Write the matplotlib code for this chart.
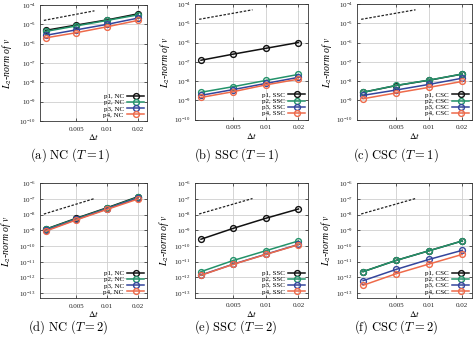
import matplotlib
matplotlib.use("Agg")
import matplotlib.pyplot as plt
from matplotlib.ticker import FixedLocator, FixedFormatter, LogLocator, LogFormatterSciNotation, NullLocator

# Time steps and the tick labels on the Δt axis
dt = [0.0025, 0.005, 0.01, 0.02]
dt_ticks = [0.005, 0.01, 0.02]
dt_tick_labels = ["0.005", "0.01", "0.02"]

# Reference slope lines (first order at T=1, second order at T=2)
ref_dt = [0.0024, 0.0075]
ref_t1 = [1.6e-5, 5.0e-5]
ref_t2 = [1.1e-8, 1.07e-7]

# L2-norm errors of v, one list per parameter set p1..p4
nc_t1_p1 = [4.9e-6, 9.2e-6, 1.7e-5, 3.5e-5]
nc_t1_p2 = [4.3e-6, 8.3e-6, 1.6e-5, 3.1e-5]
nc_t1_p3 = [2.7e-6, 5.2e-6, 1.0e-5, 2.1e-5]
nc_t1_p4 = [2.0e-6, 3.7e-6, 7.5e-6, 1.6e-5]

ssc_t1_p1 = [1.2e-7, 2.5e-7, 5.0e-7, 1.0e-6]
ssc_t1_p2 = [2.6e-9, 5.1e-9, 1.07e-8, 2.2e-8]
ssc_t1_p3 = [1.8e-9, 3.6e-9, 7.5e-9, 1.55e-8]
ssc_t1_p4 = [1.4e-9, 2.8e-9, 6.3e-9, 1.25e-8]

csc_t1_p1 = [2.6e-9, 5.8e-9, 1.1e-8, 2.3e-8]
csc_t1_p2 = [2.6e-9, 5.9e-9, 1.12e-8, 2.3e-8]
csc_t1_p3 = [1.8e-9, 3.4e-9, 6.7e-9, 1.4e-8]
csc_t1_p4 = [1.2e-9, 2.4e-9, 4.7e-9, 9.5e-9]

nc_t2_p1 = [1.2e-9, 6.0e-9, 2.8e-8, 1.4e-7]
nc_t2_p2 = [1.15e-9, 5.6e-9, 2.6e-8, 1.3e-7]
nc_t2_p3 = [1.0e-9, 5.0e-9, 2.4e-8, 1.15e-7]
nc_t2_p4 = [9.0e-10, 4.7e-9, 2.2e-8, 1.0e-7]

ssc_t2_p1 = [2.7e-10, 1.35e-9, 5.9e-9, 2.3e-8]
ssc_t2_p2 = [2.3e-12, 1.2e-11, 5.0e-11, 2.1e-10]
ssc_t2_p3 = [1.4e-12, 7.0e-12, 3.0e-11, 1.25e-10]
ssc_t2_p4 = [1.35e-12, 6.8e-12, 2.9e-11, 1.2e-10]

csc_t2_p1 = [2.3e-12, 1.2e-11, 5.0e-11, 2.1e-10]
csc_t2_p2 = [2.3e-12, 1.2e-11, 5.0e-11, 2.1e-10]
csc_t2_p3 = [6.1e-13, 3.2e-12, 1.4e-11, 5.3e-11]
csc_t2_p4 = [3.1e-13, 1.7e-12, 7.1e-12, 2.9e-11]

series_names = ["p1", "p2", "p3", "p4"]
colors = ["#111111", "#23936a", "#34459c", "#ee6a4a"]

plt.rcParams["font.family"] = ["Liberation Serif", "DejaVu Serif"]
plt.rcParams["mathtext.fontset"] = "stix"

W, H = 474, 340
fig = plt.figure(figsize=(W / 100, H / 100), dpi=100)


def box(l, t, r, b):
    return [l / W, 1 - b / H, (r - l) / W, (b - t) / H]


panels = [
    dict(rect=box(40, 5, 147, 121), scheme="NC", T=1, tag="a", ylim=(1e-10, 1e-4), ref=ref_t1,
         cap=(70, 155), ylab=14,
         data=[nc_t1_p1, nc_t1_p2, nc_t1_p3, nc_t1_p4]),
    dict(rect=box(195, 4, 308, 119.5), scheme="SSC", T=1, tag="b", ylim=(1e-10, 1e-4), ref=ref_t1,
         cap=(236, 155), ylab=172,
         data=[ssc_t1_p1, ssc_t1_p2, ssc_t1_p3, ssc_t1_p4]),
    dict(rect=box(357, 4, 472, 119.5), scheme="CSC", T=1, tag="c", ylim=(1e-10, 1e-4), ref=ref_t1,
         cap=(396, 155), ylab=334,
         data=[csc_t1_p1, csc_t1_p2, csc_t1_p3, csc_t1_p4]),
    dict(rect=box(40, 183.3, 147, 298), scheme="NC", T=2, tag="d", ylim=(5e-14, 1e-6), ref=ref_t2,
         cap=(68, 327), ylab=13,
         data=[nc_t2_p1, nc_t2_p2, nc_t2_p3, nc_t2_p4]),
    dict(rect=box(195, 183.3, 308, 297.7), scheme="SSC", T=2, tag="e", ylim=(5e-14, 1e-6), ref=ref_t2,
         cap=(236, 327), ylab=171,
         data=[ssc_t2_p1, ssc_t2_p2, ssc_t2_p3, ssc_t2_p4]),
    dict(rect=box(357, 183.3, 472, 297.7), scheme="CSC", T=2, tag="f", ylim=(5e-14, 1e-6), ref=ref_t2,
         cap=(396, 327), ylab=333,
         data=[csc_t2_p1, csc_t2_p2, csc_t2_p3, csc_t2_p4]),
]

for p in panels:
    ax = fig.add_axes(p["rect"])
    ax.set_xscale("log")
    ax.set_yscale("log")
    ax.set_xlim(0.0022, 0.0245)
    ax.set_ylim(*p["ylim"])

    ax.plot(ref_dt, p["ref"], color="#222222", linestyle=(0, (2.0, 1.3)), linewidth=0.9)
    for name, values, c in zip(series_names, p["data"], colors):
        ax.plot(dt, values, color=c, linewidth=1.1, marker="o", markersize=4.2,
                markerfacecolor="none", markeredgewidth=1.0,
                label=f"{name}, {p['scheme']}")

    ax.xaxis.set_major_locator(FixedLocator(dt_ticks))
    ax.xaxis.set_major_formatter(FixedFormatter(dt_tick_labels))
    ax.xaxis.set_minor_locator(NullLocator())
    ax.yaxis.set_major_locator(LogLocator(base=10, numticks=20))
    ax.yaxis.set_major_formatter(LogFormatterSciNotation())
    ax.yaxis.set_minor_locator(NullLocator())

    ax.grid(True, color="#cfcfcf", linewidth=0.6)
    ax.set_axisbelow(True)
    for s in ax.spines.values():
        s.set_linewidth(0.6)
        s.set_color("#333333")
    ax.tick_params(direction="in", top=True, right=True, length=2.5, width=0.5,
                   labelsize=5, pad=3, colors="#222222")
    ax.tick_params(axis="x", pad=4)

    ax.set_xlabel(r"$\Delta t$", fontsize=6.5, labelpad=0.5)
    ax.set_ylabel(r"$L_2$-norm of $v$", fontsize=7, fontstyle="italic")
    left_px = p["rect"][0] * W
    width_px = p["rect"][2] * W
    ax.yaxis.set_label_coords((p["ylab"] - left_px) / width_px, 0.5)

    ax.legend(loc="lower right", fontsize=5, frameon=False, markerfirst=False,
              handlelength=2.4, handletextpad=0.5, labelspacing=0.05,
              borderaxespad=0.25, borderpad=0.2)

    fig.text(p["cap"][0] / W, 1 - p["cap"][1] / H,
             rf"$\mathrm{{({p['tag']})\ {p['scheme']}\ (}}T=\mathrm{{{p['T']})}}$",
             math_fontfamily="cm", fontsize=9, ha="center", va="center")

fig.savefig("out.png", dpi=100)
